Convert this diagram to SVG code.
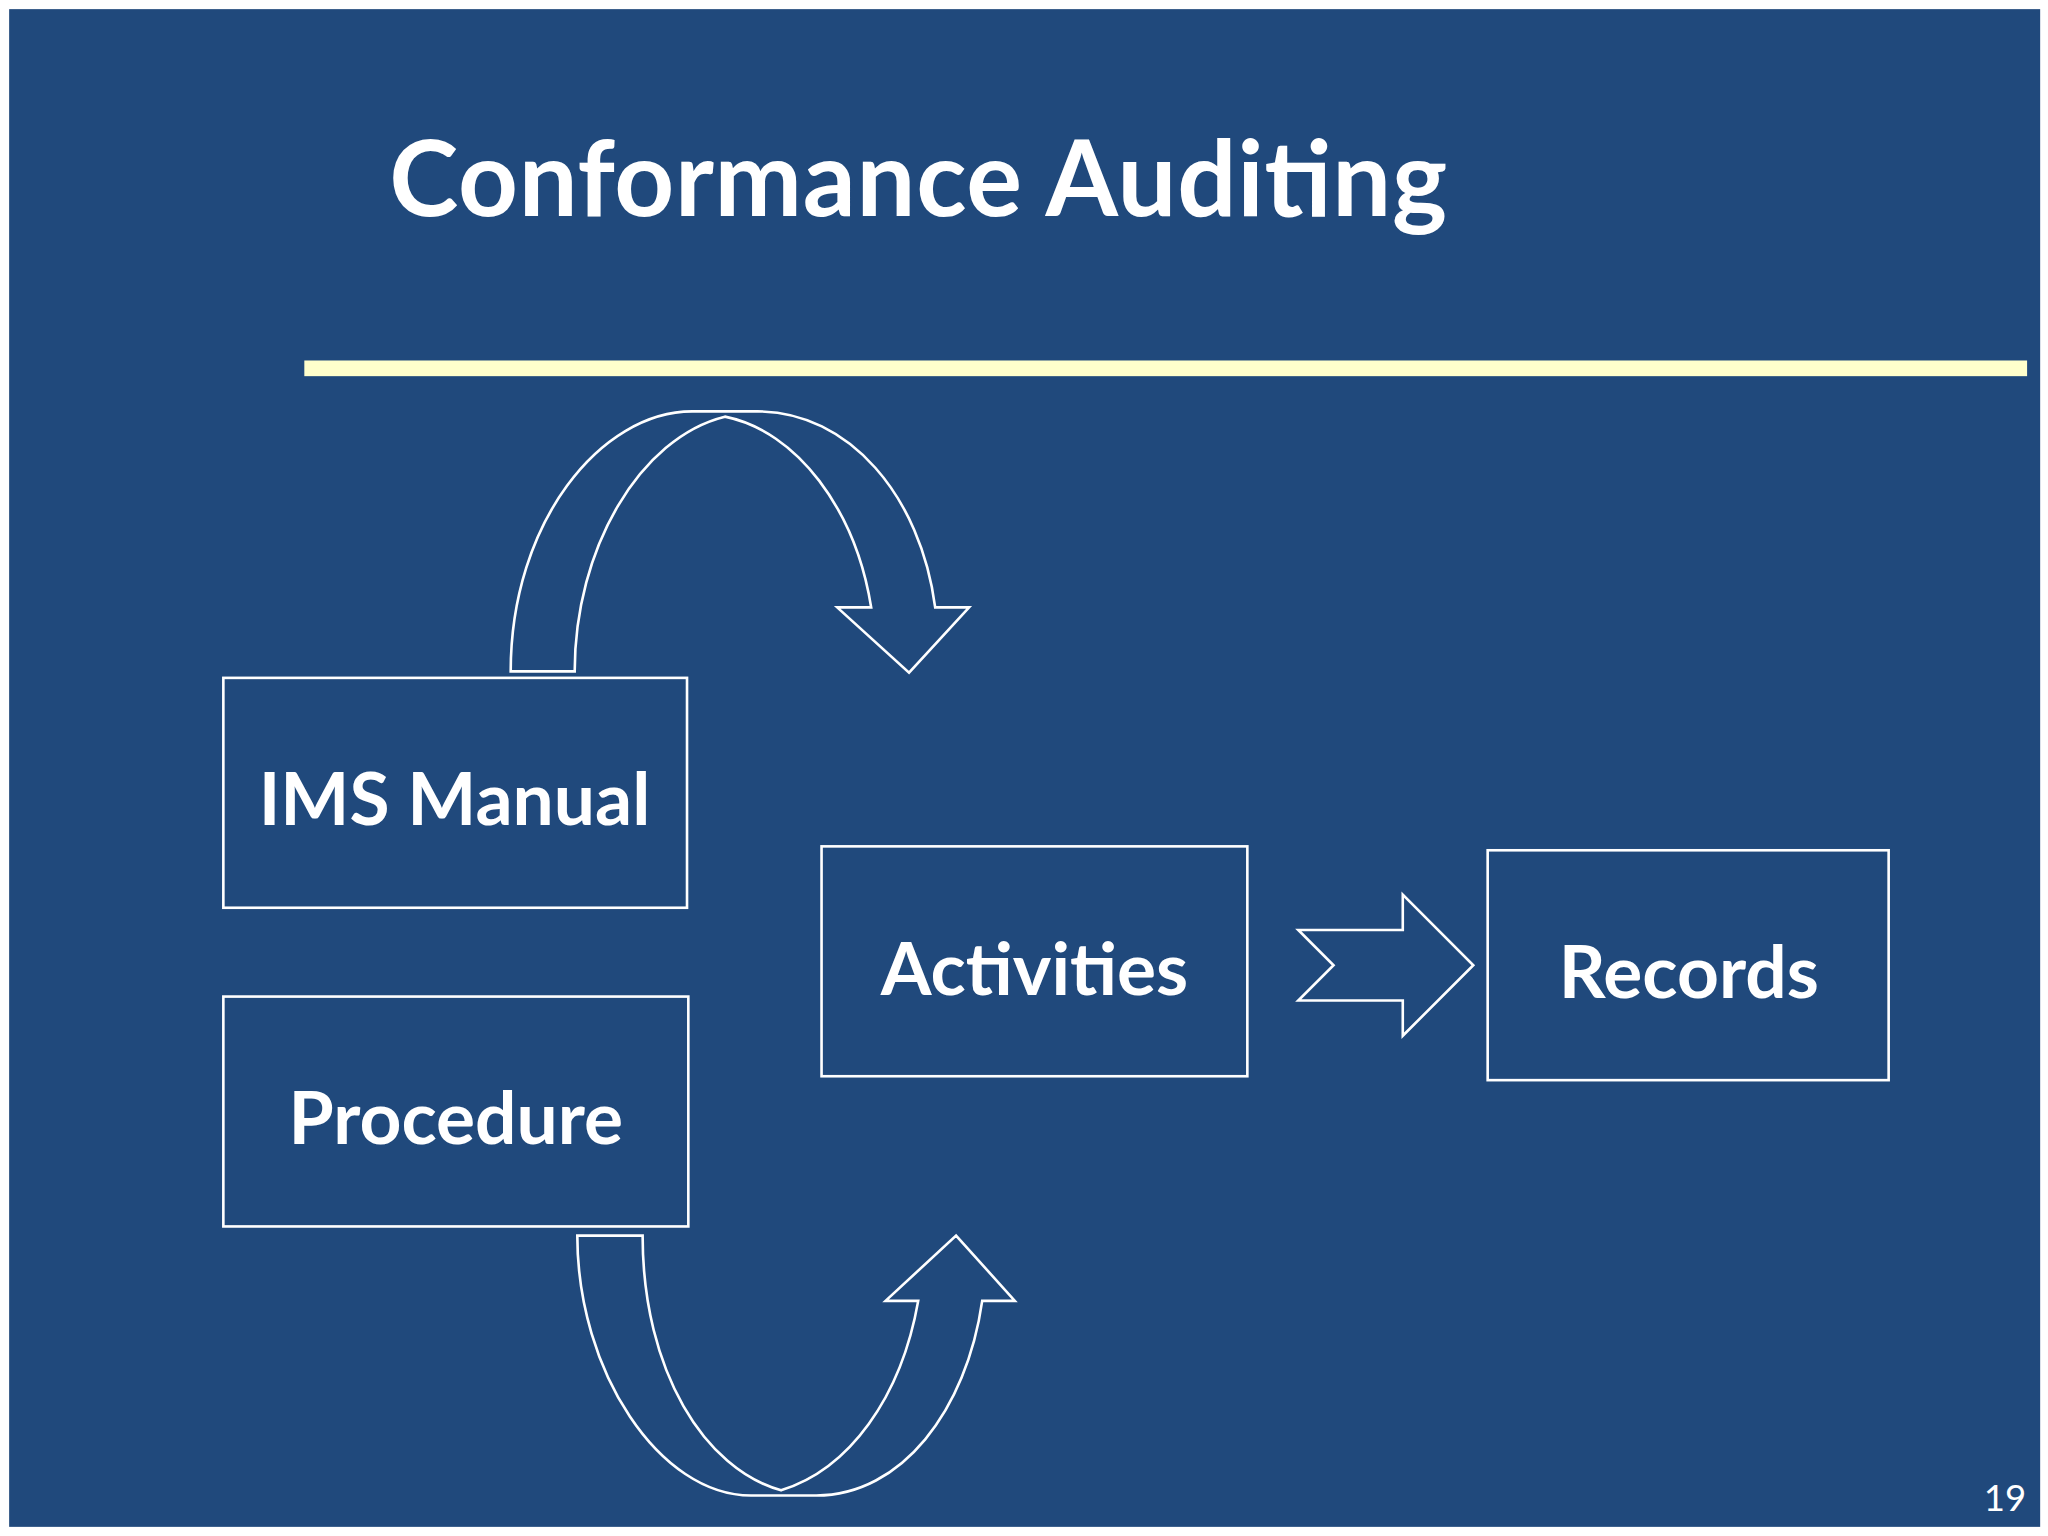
<svg xmlns="http://www.w3.org/2000/svg" width="2048" height="1536" viewBox="0 0 2048 1536">
<style>
.box{fill:none;stroke:#fff;stroke-width:2}
.lbl{font-family:Lato,"Liberation Sans",sans-serif;font-weight:bold;fill:#fff;font-size:56px;text-anchor:middle}
</style>
<rect width="2048" height="1536" fill="#fff"/>
<g transform="scale(1.30612)">
<rect x="7" y="7" width="1555" height="1162" fill="#20497c"/>
<text x="298" y="165" font-family="Lato,'Liberation Sans',sans-serif" font-weight="bold" font-size="80" fill="#fff" textLength="810">Conformance Auditing</text>
<rect x="233" y="276" width="1319" height="12" fill="#ffffcc"/>
<g id="connectors" fill="none" stroke="#fff" stroke-width="2" stroke-linejoin="miter">
<path d="M391,514 C391,400 460,315 530,315 L580,315 C650,315 705,380 716,465 L742,465 L696,515 L641,465 L667,465 C655,390 610,330 555,319 C490,335 440,420 440,514 Z"/>
<path d="M442,946 C442,1050 505,1145 575,1145 L625,1145 C690,1145 740,1080 752,996 L777,996 L732,946 L678,996 L703,996 C690,1070 650,1125 598,1141 C540,1125 492,1050 492,946 Z"/>
<path d="M994,712 L1074,712 L1074,685 L1128,739 L1074,793 L1074,766 L994,766 L1021,739 Z"/>
</g>
<g id="ims"><rect class="box" x="171" y="519" width="355" height="176"/><text class="lbl" x="348" y="632">IMS Manual</text></g>
<g id="procedure"><rect class="box" x="171" y="763" width="356" height="176"/><text class="lbl" x="349" y="876">Procedure</text></g>
<g id="activities"><rect class="box" x="629" y="648" width="326" height="176"/><text class="lbl" x="792" y="762">Activities</text></g>
<g id="records"><rect class="box" x="1139" y="651" width="307" height="176"/><text class="lbl" x="1293" y="764">Records</text></g>
<text x="1535" y="1157" font-family="Lato,'Liberation Sans',sans-serif" font-size="28" fill="#fff" text-anchor="middle">19</text>
</g>
</svg>
